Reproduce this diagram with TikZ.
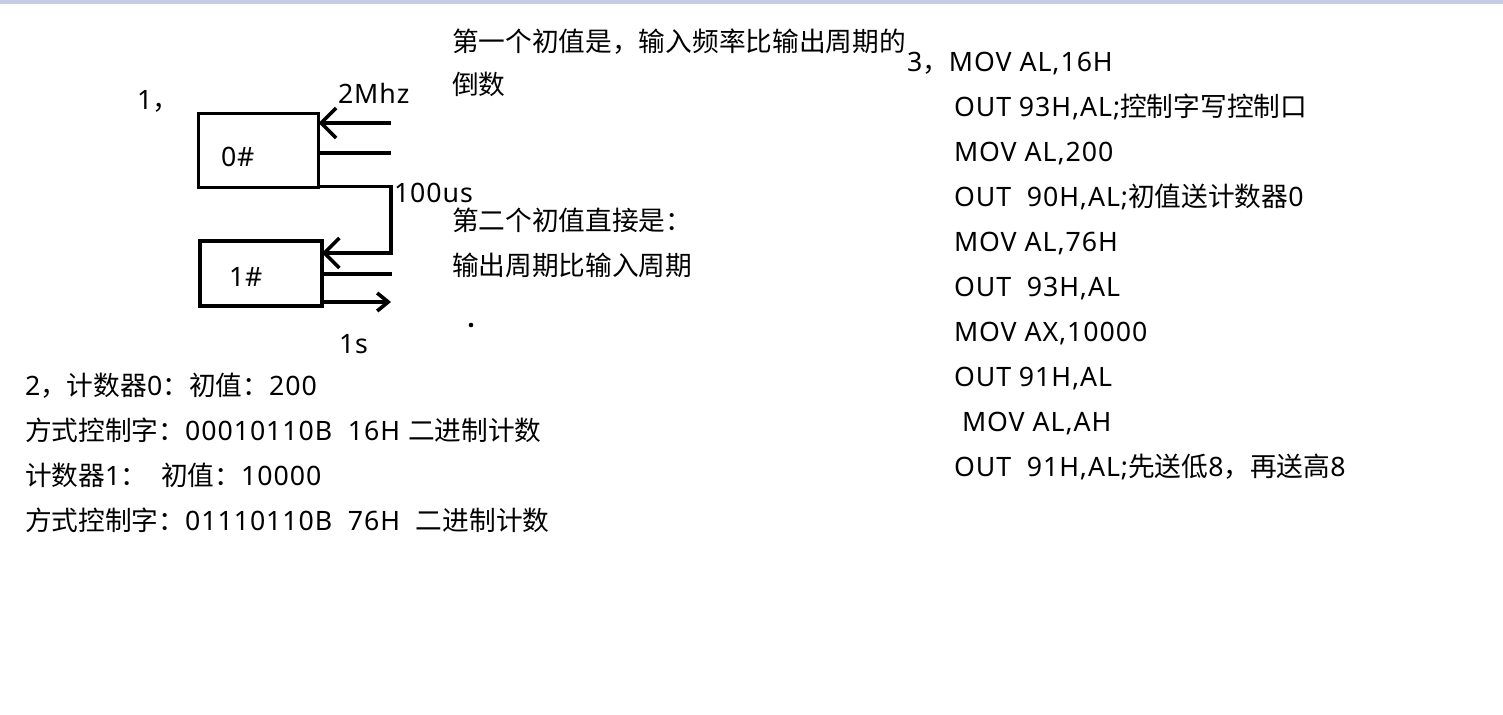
\documentclass[tikz,border=0pt]{standalone}
\usepackage{fontspec}
\setmainfont[LetterSpace=3.5]{Noto Sans}
\newfontfamily\cjk{Noto Sans CJK SC}
\newcommand\zh[1]{{\cjk #1}}
\usetikzlibrary{arrows.meta}
\definecolor{bandcol}{HTML}{C5CDE0}
\begin{document}
\begin{tikzpicture}[x=1bp,y=-1bp,
  txt/.style={anchor=base west, inner sep=0pt, outer sep=0pt, font=\fontsize{26.7bp}{32bp}\selectfont},
  box/.style={draw, line width=3.6bp, inner sep=0pt, outer sep=0pt},
  conn/.style={line width=3.6bp},
  barbin/.style={-{Straight Barb[length=15bp,width=30bp]}},
  barbout/.style={-{Straight Barb[length=11bp,width=18bp]}}]
\useasboundingbox (0,0) rectangle (1503,715);
\fill[bandcol] (0,0) rectangle (1503,4);

% boxes
\node[box, minimum width=120bp, minimum height=74bp] (b0) at (258.6,150.6) {};
\node[box, minimum width=122bp, minimum height=65bp] (b1) at (260.8,273.4) {};
\node[txt] (l0) at (221,166.5) {0\#};
\node[txt] (l1) at (229,286) {1\#};

% connectors
\coordinate (in0) at (391,123);
\coordinate (w0) at (391,153);
\coordinate (t0) at (391,186.5);
\coordinate (t1) at (391,253);
\coordinate (w1) at (392,274);
\coordinate (o1) at (391,302);
\draw[conn, barbin] (in0) -- (in0 -| b0.east);
\draw[conn] (w0 -| b0.east) -- (w0);
\draw[conn, line cap=rect, line join=miter] (t0 -| b0.east) -- (t0) -- (t1);
\draw[conn, barbin] (t1) -- (t1 -| b1.east);
\draw[conn] (w1 -| b1.east) -- (w1);
\draw[conn, barbout] (o1 -| b1.east) -- (o1);
\fill (471,325) circle (2.3bp);

% labels of part 1
\node[txt] (n1) at (137,110) {1\zh{，}};
\node[txt] (f2) at (338,104) {2Mhz};
\node[txt] (f100) at (394,202.5) {100us};
\node[txt] (f1s) at (339,353) {1s};

% notes
\node[txt] (m1) at (452,52) {\zh{第一个初值是，输入频率比输出周期的}};
\node[txt] (m2) at (452,95) {\zh{倒数}};
\node[txt] (m3) at (452,230) {\zh{第二个初值直接是：}};
\node[txt] (m4) at (452,275) {\zh{输出周期比输入周期}};

% part 2
\node[txt] (p1) at (25,395) {2\zh{，计数器}0\zh{：初值：}200};
\node[txt] (p2) at (25,440) {\zh{方式控制字：}00010110B\ \ 16H \zh{二进制计数}};
\node[txt] (p3) at (25,485) {\zh{计数器}1\zh{：}\hspace{14bp}\zh{初值：}10000};
\node[txt] (p4) at (25,530) {\zh{方式控制字：}01110110B\ \ 76H\ \ \zh{二进制计数}};

% part 3
\node[txt] (c0) at (907,71.5) {3\zh{，}MOV AL,16H};
\node[txt] (c1) at (954,116.5) {OUT 93H,AL;\zh{控制字写控制口}};
\node[txt] (c2) at (954,161.5) {MOV AL,200};
\node[txt] (c3) at (954,206.5) {OUT\ \ 90H,AL;\zh{初值送计数器}0};
\node[txt] (c4) at (954,251.5) {MOV AL,76H};
\node[txt] (c5) at (954,296.5) {OUT\ \ 93H,AL};
\node[txt] (c6) at (954,341.5) {MOV AX,10000};
\node[txt] (c7) at (954,386.5) {OUT 91H,AL};
\node[txt] (c8) at (962,431.5) {MOV AL,AH};
\node[txt] (c9) at (954,476.5) {OUT\ \ 91H,AL;\zh{先送低}8\zh{，再送高}8};
\end{tikzpicture}
\end{document}
